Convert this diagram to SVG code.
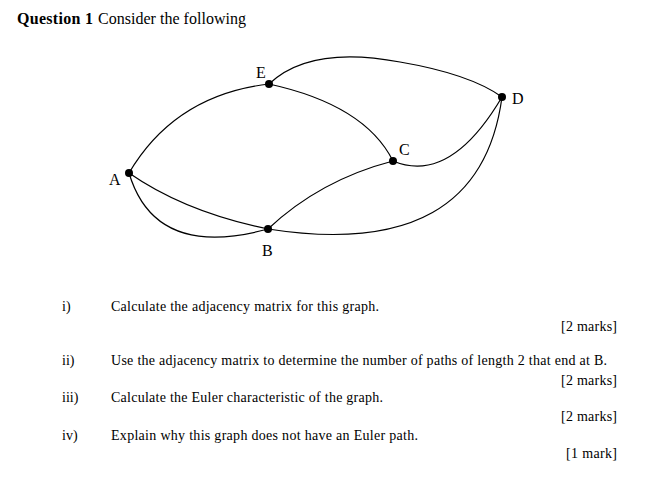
<svg xmlns="http://www.w3.org/2000/svg" width="648" height="478" viewBox="0 0 648 478">
<style>
text{font-family:"Liberation Serif","Times New Roman",serif;fill:#000}
.t{font-size:14px}
.l{font-size:16px}
.e{fill:none;stroke:#000;stroke-width:1.2}
</style>
<rect width="648" height="478" fill="#fff"/>
<text x="17" y="24" class="l" font-weight="bold" textLength="76">Question 1</text>
<text x="98" y="24" class="l" textLength="148">Consider the following</text>
<g id="edges">
<path class="e" d="M129,173 Q175,95 269,84"/>
<path class="e" d="M269,84 Q310,45 400,62 Q470,74 502,97"/>
<path class="e" d="M269,84 Q365,105 393,161"/>
<path class="e" d="M393,161 Q450,185 502,97"/>
<path class="e" d="M129,173 Q155,260 268,229"/>
<path class="e" d="M129,173 Q185,212 268,229"/>
<path class="e" d="M268,229 Q320,180 393,161"/>
<path class="e" d="M268,229 Q480,262 502,97"/>
</g>
<g id="A"><circle cx="129" cy="173" r="4"/><text x="109" y="185" class="l">A</text></g>
<g id="E"><circle cx="269" cy="84" r="4"/><text x="256" y="78" class="l">E</text></g>
<g id="D"><circle cx="502" cy="97" r="4"/><text x="512" y="104" class="l">D</text></g>
<g id="C"><circle cx="393" cy="161" r="4"/><text x="399" y="155" class="l">C</text></g>
<g id="B"><circle cx="268" cy="229" r="4"/><text x="262" y="256" class="l">B</text></g>
<text x="62" y="311" class="t">i)</text>
<text x="111" y="311" class="t" textLength="268">Calculate the adjacency matrix for this graph.</text>
<text x="561" y="331" class="t" textLength="56">[2 marks]</text>
<text x="62" y="365" class="t">ii)</text>
<text x="111" y="365" class="t" textLength="496">Use the adjacency matrix to determine the number of paths of length 2 that end at B.</text>
<text x="561" y="385" class="t" textLength="56">[2 marks]</text>
<text x="62" y="402" class="t">iii)</text>
<text x="111" y="402" class="t" textLength="272">Calculate the Euler characteristic of the graph.</text>
<text x="561" y="421" class="t" textLength="56">[2 marks]</text>
<text x="62" y="440" class="t">iv)</text>
<text x="111" y="440" class="t" textLength="307">Explain why this graph does not have an Euler path.</text>
<text x="566" y="458" class="t" textLength="51">[1 mark]</text>
</svg>
